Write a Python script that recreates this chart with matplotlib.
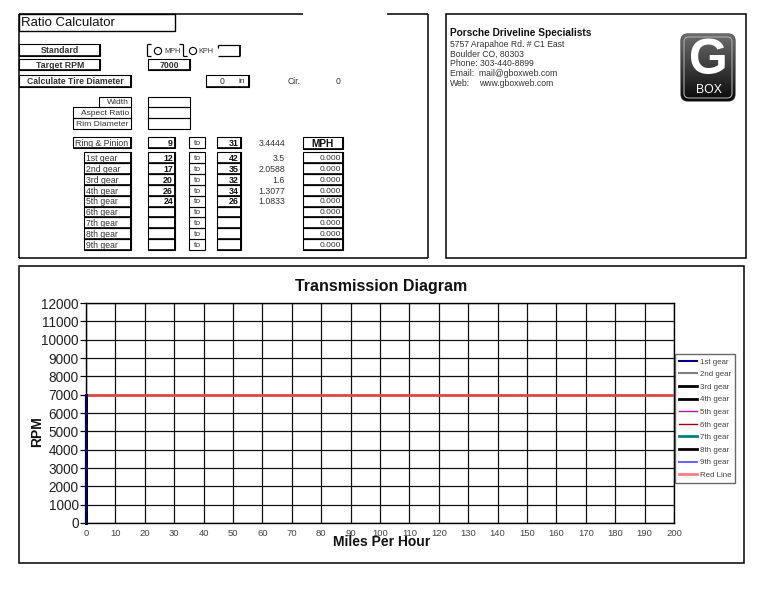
import matplotlib
matplotlib.use("Agg")
import matplotlib.pyplot as plt
from matplotlib.patches import Rectangle, FancyBboxPatch, Circle
import numpy as np

plt.rcParams['font.family'] = ['Liberation Sans', 'DejaVu Sans']

# ---------------- data ----------------
target_rpm = 7000
tire_diameter = 0
circumference = 0
ring_pinion = (9, 31)
gear_labels = ['1st gear', '2nd gear', '3rd gear', '4th gear', '5th gear',
               '6th gear', '7th gear', '8th gear', '9th gear']
gear_teeth_a = [12, 17, 20, 26, 24, None, None, None, None]
gear_teeth_b = [42, 35, 32, 34, 26, None, None, None, None]
gear_mph = [0.0, 0.0, 0.0, 0.0, 0.0, 0.0, 0.0, 0.0, 0.0]
gear_colors = ['#000080', '#808080', '#000000', '#000000', '#a020a0',
               '#a00000', '#008080', '#000000', '#6666ff']
gear_widths = [1.5, 1.5, 2.0, 2.0, 1.0, 1.0, 2.0, 2.0, 1.5]
redline_label = 'Red Line'
mph_max = 200
rpm_max = 12000
x_ticks = list(range(0, 201, 10))
y_ticks = list(range(0, 12001, 1000))

address_lines = ['5757 Arapahoe Rd. # C1 East', 'Boulder CO, 80303',
                 'Phone: 303-440-8899', 'Email:  mail@gboxweb.com']
company = 'Porsche Driveline Specialists'


def fmt_ratio(a, b):
    return f"{b / a:.4f}".rstrip('0').rstrip('.')


fig = plt.figure(figsize=(7.68, 5.94), dpi=100)
ax0 = fig.add_axes([0, 0, 1, 1])
ax0.set_xlim(0, 768)
ax0.set_ylim(594, 0)
ax0.axis('off')

TXT = '#333333'
DY = 0.9


def T(x, y, s, **kw):
    kw.setdefault('va', 'center')
    kw.setdefault('color', TXT)
    return ax0.text(x, y + DY, s, **kw)


def box(x0, y0, x1, y1, lw=0.8, shadow=True):
    ax0.add_patch(Rectangle((x0, y0), x1 - x0, y1 - y0, fill=False,
                            edgecolor='black', lw=lw))
    if shadow:
        ax0.plot([x1, x1], [y0, y1], color='black', lw=1.4, solid_capstyle='butt')
        ax0.plot([x0, x1], [y1, y1], color='black', lw=1.2, solid_capstyle='butt')


def line(xs, ys, lw=0.9, color='black'):
    ax0.plot(xs, ys, color=color, lw=lw, solid_capstyle='butt')


# ---------- top-left panel ----------
line([19, 303], [14, 14], lw=1.1)
line([387, 428], [14, 14], lw=1.1)
line([428, 428], [14, 258], lw=1.1)
line([19, 428], [258, 258], lw=1.1)
line([19, 19], [14, 258], lw=1.1)

box(19, 14, 175, 31, lw=1.0, shadow=False)
ax0.text(21, 22.5, 'Ratio Calculator', fontsize=9.5, va='center', ha='left', color='#111')

box(19, 44, 100, 56)
T(60, 50, 'Standard', fontsize=6.3, fontweight='bold', ha='center')
box(19, 59, 100, 70)
T(60, 64.5, 'Target RPM', fontsize=6.3, fontweight='bold', ha='center')
box(19, 75, 131, 87)
T(75, 81, 'Calculate Tire Diameter', fontsize=6.2, fontweight='bold', ha='center')

# MPH / KPH radio area
line([147, 147], [44, 56]); line([147, 151], [44, 44]); line([147, 151], [56, 56])
ax0.add_patch(Circle((158, 51), 3.6, fill=False, edgecolor='black', lw=0.8))
T(164, 50.5, 'MPH', fontsize=5.2, ha='left')
line([179, 183], [44, 44]); line([183, 183], [44, 56]); line([183, 187], [56, 56])
ax0.add_patch(Circle((193, 51), 3.6, fill=False, edgecolor='black', lw=0.8))
T(198, 50.5, 'KPH', fontsize=5.2, ha='left')
line([218, 240], [45, 45]); line([218, 240], [56, 56]); line([240, 240], [45, 56], lw=1.3)
line([218, 218], [45, 48])

box(148, 59, 190, 70)
T(169, 64.5, f'{target_rpm}', fontsize=6.3, fontweight='bold', ha='center')
box(206, 75, 249, 87)
T(222, 81, f'{tire_diameter}', fontsize=6.2, ha='center')
T(242, 81, 'in', fontsize=6.0, ha='center')
T(288, 81, 'Cir.', fontsize=6.2, ha='left')
T(340, 81, f'{circumference}', fontsize=6.2, ha='right')

# tire size inputs
for (lx, label), (y0, y1) in zip([(99, 'Width'), (73, 'Aspect Ratio'), (73, 'Rim Diameter')],
                                 [(97, 107), (107, 118), (118, 129)]):
    box(lx, y0, 131, y1, shadow=False)
    T(129, (y0 + y1) / 2, label, fontsize=6.1, ha='right')
    box(148, y0, 190, y1, shadow=False)

# ring & pinion row
box(73, 137, 131, 148)
T(102, 142.5, 'Ring & Pinion', fontsize=6.3, ha='center')
box(148, 137, 175, 148)
T(173, 142.5, f'{ring_pinion[0]}', fontsize=6.4, fontweight='bold', ha='right', color='#111')
box(189, 137, 205, 148, shadow=False)
T(197, 142.5, 'to', fontsize=6.0, ha='center')
box(217, 137, 241, 148)
T(239, 142.5, f'{ring_pinion[1]}', fontsize=6.4, fontweight='bold', ha='right', color='#111')
T(285, 142.5, fmt_ratio(*ring_pinion), fontsize=6.3, ha='right')
box(303, 137, 343, 149)
T(323, 143, 'MPH', fontsize=7.3, fontweight='bold', ha='center', color='#111')

row_h = 10.9
for i, label in enumerate(gear_labels):
    y0 = 152 + i * row_h
    y1 = y0 + row_h
    yc = (y0 + y1) / 2
    box(84, y0, 131, y1)
    T(86, yc, label, fontsize=6.2, ha='left')
    box(148, y0, 175, y1)
    box(189, y0, 205, y1, shadow=False)
    T(197, yc, 'to', fontsize=6.0, ha='center')
    box(217, y0, 241, y1)
    a, b = gear_teeth_a[i], gear_teeth_b[i]
    if a is not None:
        T(173, yc, f'{a}', fontsize=6.4, fontweight='bold', ha='right', color='#111')
        T(239, yc, f'{b}', fontsize=6.4, fontweight='bold', ha='right', color='#111')
        T(285, yc, fmt_ratio(a, b), fontsize=6.3, ha='right')
    box(303, y0, 343, y1)
    T(341, yc, f'{gear_mph[i]:.3f}', fontsize=6.1, ha='right')

# ---------- top-right panel ----------
ax0.add_patch(Rectangle((446, 14), 300, 244, fill=False, edgecolor='black', lw=1.1))
T(450, 32.5, company, fontsize=7.3, fontweight='bold', ha='left', color='#111')
for k, t in enumerate(address_lines):
    T(450, 43.3 + k * 9.9, t, fontsize=6.2, ha='left')
T(450, 83.0, 'Web:', fontsize=6.2, ha='left')
T(479, 83.0, 'www.gboxweb.com', fontsize=6.2, ha='left')

logo = FancyBboxPatch((681, 34), 54, 67, boxstyle='round,pad=0,rounding_size=7',
                      facecolor='#1a1a1a', edgecolor='#555555', lw=1.0, zorder=3)
ax0.add_patch(logo)
grad = np.linspace(0.42, 0.04, 64).reshape(-1, 1)
im = ax0.imshow(grad, extent=(681, 735, 101, 34), cmap='gray', vmin=0, vmax=1,
                aspect='auto', zorder=3.5)
im.set_clip_path(logo)
inner = FancyBboxPatch((684, 37), 48, 61, boxstyle='round,pad=0,rounding_size=5',
                       fill=False, edgecolor='#aaaaaa', lw=0.8, zorder=4)
ax0.add_patch(inner)
ax0.text(708, 61, 'G', fontsize=36, fontweight='bold', color='white', ha='center',
         va='center', zorder=5)
ax0.text(709, 90, 'BOX', fontsize=8.8, color='white', ha='center', va='center', zorder=5)
ax0.set_xlim(0, 768)
ax0.set_ylim(594, 0)

# ---------- chart panel ----------
ax0.add_patch(Rectangle((19, 266), 725, 297, fill=False, edgecolor='black', lw=1.1))
ax0.text(381, 287, 'Transmission Diagram', fontsize=11.5, fontweight='bold',
         ha='center', va='center', color='#111')
ax0.text(382, 542, 'Miles Per Hour', fontsize=10, fontweight='bold',
         ha='center', va='center', color='#111')
ax0.text(37, 432, 'RPM', fontsize=10, fontweight='bold', rotation=90,
         ha='center', va='center', color='#111')

ax = fig.add_axes([86 / 768, 1 - 523 / 594, (674 - 86) / 768, (523 - 303) / 594])
ax.set_xlim(0, mph_max)
ax.set_ylim(0, rpm_max)
ax.set_xticks(x_ticks)
ax.set_yticks(y_ticks)
ax.grid(True, color='#111111', lw=0.9)
ax.set_axisbelow(True)
for s in ax.spines.values():
    s.set_color('black')
    s.set_linewidth(1.0)
ax.tick_params(axis='y', length=4, width=0.9, pad=1.2, labelsize=9.8, labelcolor='#222')
ax.tick_params(axis='x', length=0, pad=4.5, labelsize=6.8, labelcolor='#444')

handles = []
for i in range(len(gear_labels) - 1, -1, -1):
    h, = ax.plot([0, gear_mph[i]], [0, target_rpm], color=gear_colors[i],
                 lw=gear_widths[i], label=gear_labels[i], clip_on=False, zorder=3 + (9 - i) * 0.01)
    handles.insert(0, h)
hr, = ax.plot([0, mph_max], [target_rpm, target_rpm], color='#e04848', lw=2.0,
              label=redline_label, zorder=3)

leg_r, = ax.plot([], [], color='#ff8080', lw=2.0)
leg = fig.legend(handles + [leg_r], gear_labels + [redline_label],
                 loc='upper left', bbox_to_anchor=(675 / 768, 1 - 354 / 594),
                 fontsize=5.7, labelspacing=0.64, handlelength=2.3, handletextpad=0.35,
                 borderpad=0.5, borderaxespad=0, frameon=True, fancybox=False)
leg.get_frame().set_edgecolor('#444444')
leg.get_frame().set_linewidth(1.0)
for t in leg.get_texts():
    t.set_color('#444')

fig.savefig('out.png', dpi=100)
